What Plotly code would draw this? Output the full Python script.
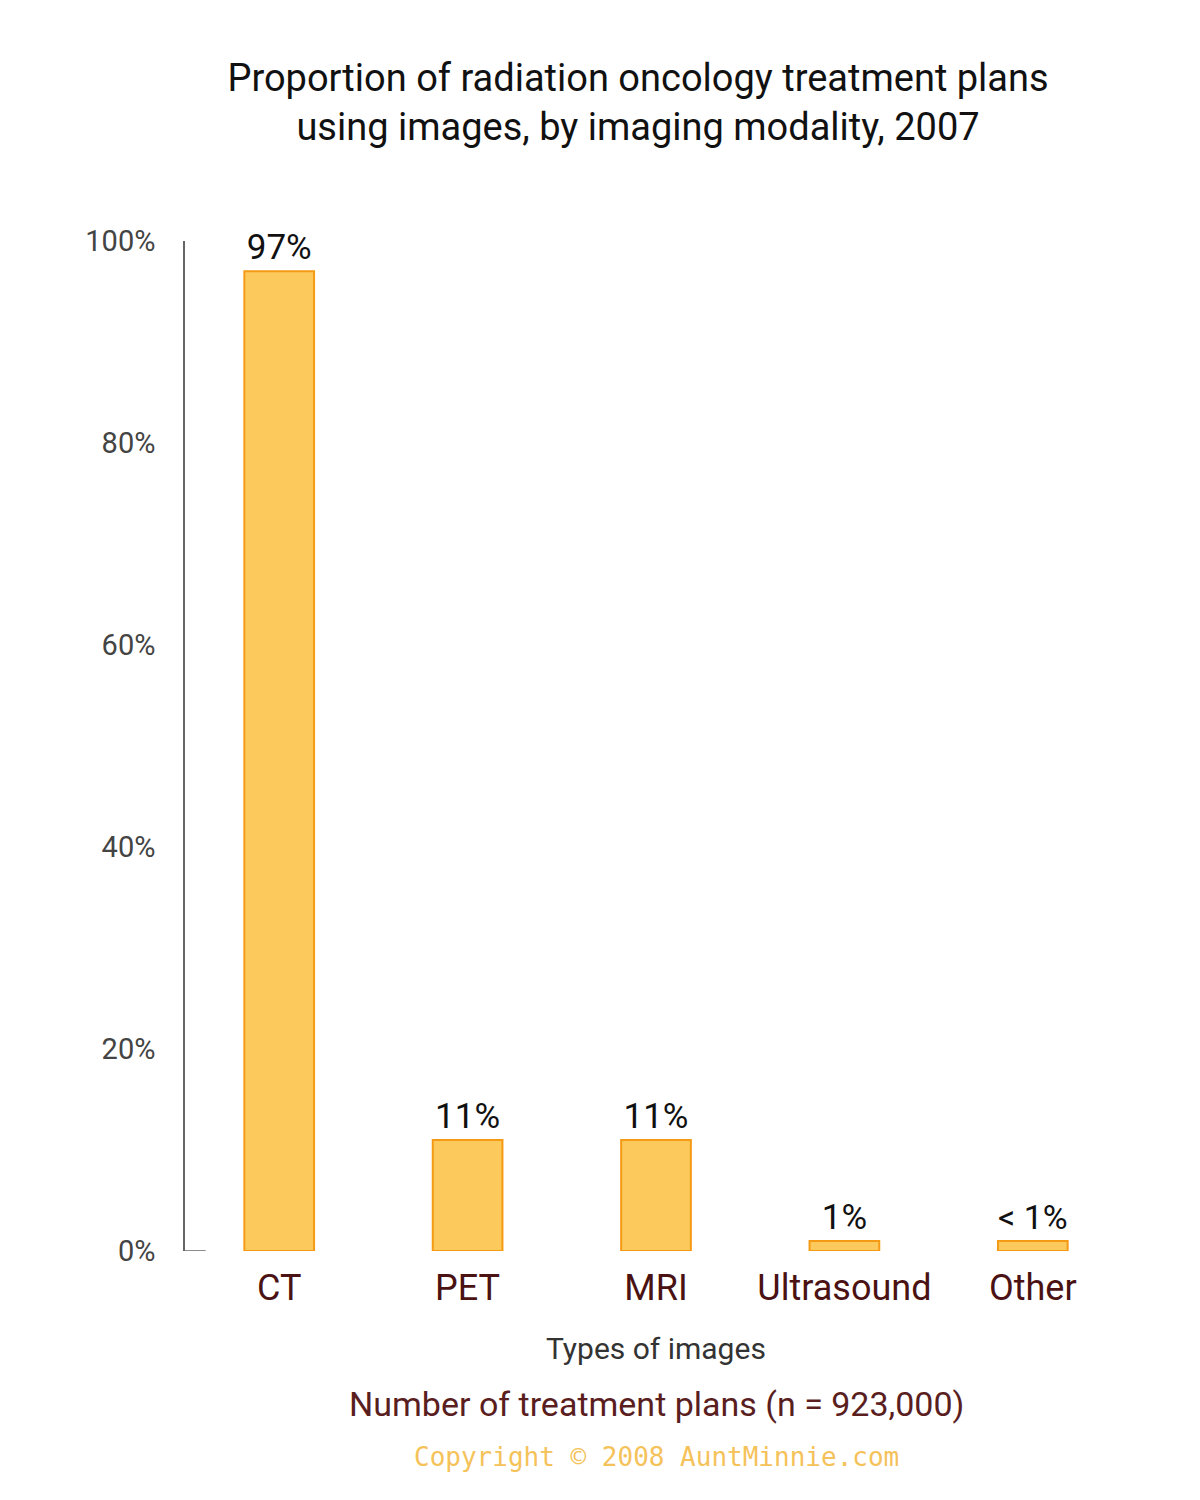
import plotly.graph_objects as go

categories = ["CT", "PET", "MRI", "Ultrasound", "Other"]
values = [97, 11, 11, 1, 1]
bar_labels = ["97%", "11%", "11%", "1%", "< 1%"]
tick_vals = [0, 20, 40, 60, 80, 100]
tick_text = ["0%", "20%", "40%", "60%", "80%", "100%"]

font = "Liberation Sans Narrow, Roboto, sans-serif"

fig = go.Figure(go.Bar(
    x=categories, y=values, text=bar_labels, textposition="outside",
    textfont=dict(size=35, color="#111", family=font),
    marker=dict(color="#fcc95c", line=dict(color="#f59a14", width=2)),
    width=0.37, cliponaxis=False,
))

fig.update_layout(
    width=1200, height=1500, plot_bgcolor="white", paper_bgcolor="white",
    margin=dict(l=177, r=81, t=233, b=257),
    showlegend=False,
    title=dict(text="Proportion of radiation oncology treatment plans<br>using images, by imaging modality, 2007",
               x=0.525, xanchor="center", y=0.945, yanchor="top",
               font=dict(size=38, color="#111", family=font)),
)
fig.update_yaxes(range=[0, 100], tickvals=tick_vals, ticktext=tick_text,
                 showgrid=False, zeroline=False, showline=True, linecolor="#666", linewidth=1.5,
                 ticks="", ticklabelstandoff=22,
                 tickfont=dict(size=29, color="#444", family=font))
fig.update_xaxes(range=[-0.5, 4.5], showgrid=False, showline=False, ticks="",
                 ticklabelstandoff=12,
                 tickfont=dict(size=36, color="#4a1212", family=font))

fig.add_shape(type="line", xref="paper", yref="y", x0=0, x1=0.022, y0=0, y1=0,
              line=dict(color="#666", width=1.5))
fig.add_annotation(text="Types of images", xref="paper", yref="paper", x=0.5, y=-0.116,
                   showarrow=False, font=dict(size=30, color="#333", family=font))
fig.add_annotation(text="Number of treatment plans (n = 923,000)", xref="paper", yref="paper",
                   x=0.5, y=-0.173, showarrow=False, font=dict(size=34, color="#5a1e1e", family=font))
fig.add_annotation(text="Copyright © 2008 AuntMinnie.com", xref="paper", yref="paper",
                   x=0.5, y=-0.221, showarrow=False,
                   font=dict(size=26, color="#f5c25a", family="DejaVu Sans Mono, monospace"))

fig.write_html("out.html")
